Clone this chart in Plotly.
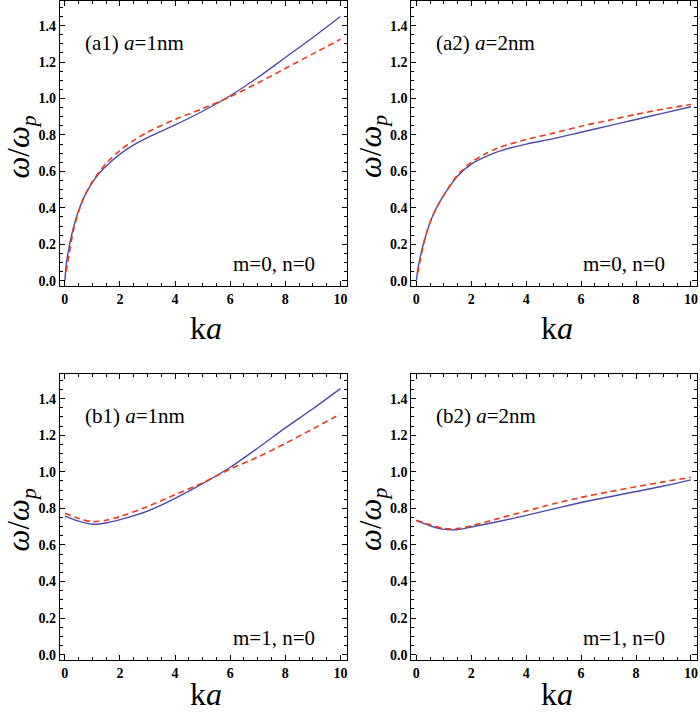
import plotly.graph_objects as go

# ---------------- data ----------------
ka_full = [0, 0.05, 0.1, 0.2, 0.3, 0.4, 0.5, 0.7, 1.0, 1.25, 1.5, 2, 2.5, 3, 4, 5, 6, 7, 8, 9, 10]
ka_dash = [0.05, 0.15, 0.3, 0.5, 0.7, 1.0, 1.5, 2, 2.5, 3, 4, 5, 6, 7, 8, 9, 10]
ka_b = [0, 0.5, 1, 1.5, 2, 3, 4, 5, 6, 7, 8, 9, 10]

a1_solid = [0, 0.09, 0.14, 0.22, 0.285, 0.34, 0.385, 0.46, 0.54, 0.59, 0.63, 0.695, 0.745, 0.785, 0.855, 0.93, 1.015, 1.115, 1.225, 1.335, 1.45]
a1_dashed = [0.05, 0.14, 0.27, 0.38, 0.46, 0.545, 0.645, 0.715, 0.77, 0.815, 0.885, 0.945, 1.01, 1.085, 1.165, 1.245, 1.325]

a2_solid = [0, 0.06, 0.1, 0.17, 0.225, 0.275, 0.32, 0.39, 0.47, 0.525, 0.575, 0.64, 0.68, 0.71, 0.75, 0.78, 0.815, 0.85, 0.885, 0.92, 0.955]
a2_dashed = [0.04, 0.12, 0.225, 0.32, 0.39, 0.47, 0.58, 0.65, 0.695, 0.73, 0.775, 0.81, 0.848, 0.88, 0.913, 0.942, 0.967]

b1_solid = [0.758, 0.73, 0.713, 0.72, 0.738, 0.785, 0.855, 0.935, 1.025, 1.13, 1.24, 1.345, 1.455]
b1_dashed = [0.773, 0.745, 0.727, 0.735, 0.755, 0.81, 0.875, 0.94, 1.015, 1.08, 1.155, 1.235, 1.316]

b2_solid = [0.733, 0.705, 0.685, 0.684, 0.698, 0.728, 0.762, 0.797, 0.832, 0.862, 0.892, 0.922, 0.956]
b2_dashed = [0.735, 0.71, 0.69, 0.69, 0.705, 0.745, 0.785, 0.825, 0.86, 0.89, 0.918, 0.945, 0.97]

panel_labels = ["(a1) <i>a</i>=1nm", "(a2) <i>a</i>=2nm", "(b1) <i>a</i>=1nm", "(b2) <i>a</i>=2nm"]
mode_labels = ["m=0, n=0", "m=0, n=0", "m=1, n=0", "m=1, n=0"]

x_ticks = [0, 2, 4, 6, 8, 10]
y_ticks = [0.0, 0.2, 0.4, 0.6, 0.8, 1.0, 1.2, 1.4]

# ---------------- styling ----------------
W, H = 700, 714
BLUE = "rgb(75,75,170)"
RED = "rgb(235,60,25)"
FONT = "Liberation Serif"

# plot frames in pixels: (left, right, top, bottom)
frames = [(60, 347, 1, 287), (412, 698, 1, 287), (60, 347, 375, 662), (412, 698, 375, 662)]

series = [
    (ka_full, a1_solid, ka_dash, a1_dashed),
    (ka_full, a2_solid, ka_dash, a2_dashed),
    (ka_b, b1_solid, ka_b, b1_dashed),
    (ka_b, b2_solid, ka_b, b2_dashed),
]

fig = go.Figure()
layout = dict(
    width=W, height=H, margin=dict(l=0, r=0, t=0, b=0),
    paper_bgcolor="white", plot_bgcolor="white", showlegend=False,
    annotations=[],
)

def px(x):
    return x / W

def py(y):
    return 1 - y / H

for i, (fr, (xs, ys, xd, yd)) in enumerate(zip(frames, series)):
    n = "" if i == 0 else str(i + 1)
    xa, ya = "x" + n, "y" + n
    fig.add_trace(go.Scatter(x=xs, y=ys, mode="lines", xaxis=xa, yaxis=ya,
                             line=dict(color=BLUE, width=1.4, shape="spline", smoothing=0.8)))
    fig.add_trace(go.Scatter(x=xd, y=yd, mode="lines", xaxis=xa, yaxis=ya,
                             line=dict(color=RED, width=1.6, dash="6px,4px", shape="spline", smoothing=0.8)))
    l, r, t, b = fr
    common = dict(
        showline=True, linecolor="black", linewidth=1, mirror="allticks",
        ticks="inside", ticklen=5, tickwidth=1, tickcolor="black",
        showgrid=False, zeroline=False,
        tickfont=dict(family=FONT, size=14, color="black", weight="bold"),
    )
    layout["xaxis" + n] = dict(
        common, domain=[px(l), px(r)], anchor=ya, range=[-0.18, 10.22],
        tickvals=x_ticks, ticktext=[str(v) for v in x_ticks],
        minor=dict(dtick=0.5, tick0=0, ticks="inside", ticklen=3, tickcolor="black", showgrid=False),
    )
    layout["yaxis" + n] = dict(
        common, domain=[py(b), py(t)], anchor=xa, range=[-0.03, 1.535],
        tickvals=y_ticks, ticktext=["%.1f" % v for v in y_ticks],
        minor=dict(dtick=0.05, tick0=0, ticks="inside", ticklen=3, tickcolor="black", showgrid=False),
    )
    # panel label
    layout["annotations"].append(dict(
        text=panel_labels[i], xref="paper", yref="paper",
        x=px(l + 23), y=py(t + 42), xanchor="left", yanchor="middle",
        showarrow=False, font=dict(family=FONT, size=21, color="black")))
    # mode label
    layout["annotations"].append(dict(
        text=mode_labels[i], xref="paper", yref="paper",
        x=px(r - 30), y=py(b - 22), xanchor="right", yanchor="middle",
        showarrow=False, font=dict(family=FONT, size=21, color="black")))
    # x title
    cx = (l + r) / 2 + 3
    ty = b + 42 if i < 2 else 696
    layout["annotations"].append(dict(
        text="k<i>a</i>", xref="paper", yref="paper",
        x=px(cx), y=py(ty), xanchor="center", yanchor="middle",
        showarrow=False, font=dict(family=FONT, size=32, color="black")))
    # y title
    layout["annotations"].append(dict(
        text="<i>ω</i>/<i>ω</i><sub><i>p</i></sub>", xref="paper", yref="paper",
        x=px(l - 39), y=py(t + 146), xanchor="center", yanchor="middle", textangle=-90,
        showarrow=False, font=dict(family=FONT, size=31, color="black")))

fig.update_layout(**layout)
fig.write_html("out.html")
